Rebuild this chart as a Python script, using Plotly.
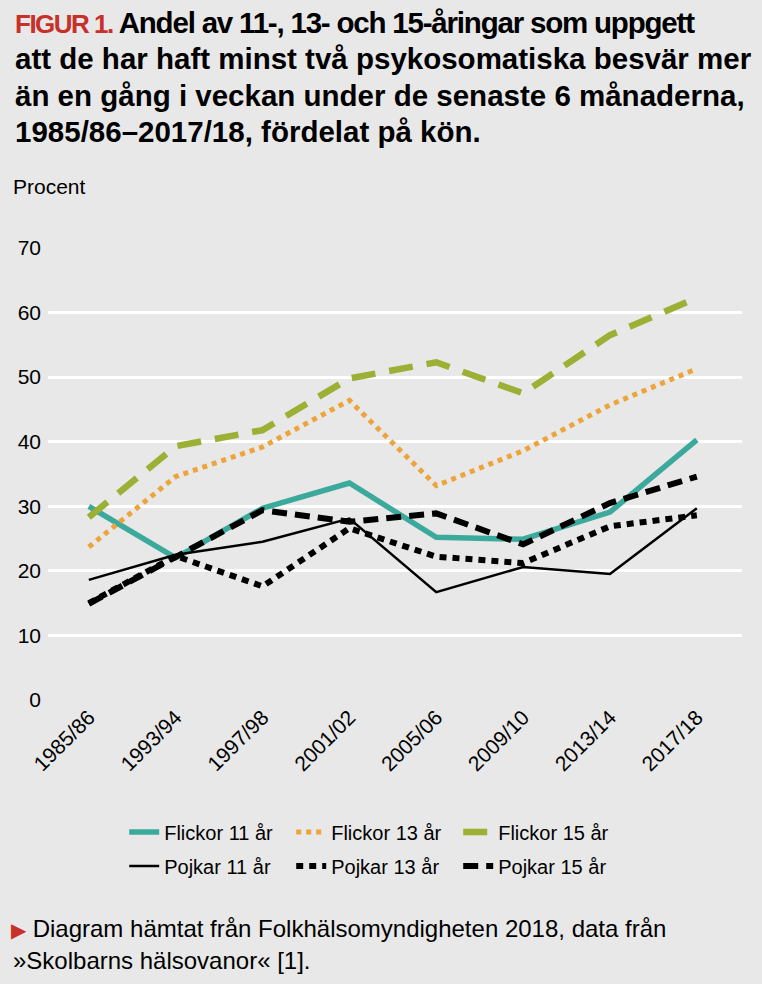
import plotly.graph_objects as go

# ---------------- data ----------------
years = ["1985/86", "1993/94", "1997/98", "2001/02", "2005/06", "2009/10", "2013/14", "2017/18"]
flickor_11 = [30.0, 22.0, 29.7, 33.6, 25.2, 24.9, 29.1, 40.3]
flickor_13 = [23.7, 34.6, 39.2, 46.4, 33.2, 38.6, 45.7, 51.3]
flickor_15 = [28.3, 39.3, 41.8, 49.8, 52.3, 47.5, 56.5, 62.3]
pojkar_11 = [18.6, 22.5, 24.5, 28.1, 16.7, 20.6, 19.5, 29.7]
pojkar_13 = [15.0, 22.3, 17.6, 26.6, 22.2, 21.2, 26.9, 28.6]
pojkar_15 = [14.9, 22.2, 29.4, 27.6, 28.9, 24.1, 30.5, 34.6]
y_ticks = [0, 10, 20, 30, 40, 50, 60, 70]

BG = "#e8e8e8"
TEAL = "#3ba99c"
ORANGE = "#eca43b"
GREEN = "#9bb035"
RED = "#c8302a"
FONT = "Liberation Sans, Arial, sans-serif"

fig = go.Figure()

series = [
    ("Flickor 11 år", flickor_11, dict(color=TEAL, width=5.5, dash="solid"), "legend"),
    ("Flickor 13 år", flickor_13, dict(color=ORANGE, width=5, dash="5px,5px"), "legend"),
    ("Flickor 15 år", flickor_15, dict(color=GREEN, width=6.5, dash="24px,14px"), "legend"),
    ("Pojkar 11 år", pojkar_11, dict(color="black", width=2.5, dash="solid"), "legend2"),
    ("Pojkar 13 år", pojkar_13, dict(color="black", width=6, dash="7px,6px"), "legend2"),
    ("Pojkar 15 år", pojkar_15, dict(color="black", width=6, dash="15px,8px"), "legend2"),
]
for name, vals, line, lg in series:
    fig.add_trace(go.Scatter(x=years, y=vals, mode="lines", name=name, line=line,
                             legend=lg, hoverinfo="skip"))

legend_common = dict(
    orientation="h", xref="container", yref="container", xanchor="left", yanchor="middle",
    x=0.163, bgcolor="rgba(0,0,0,0)", font=dict(family=FONT, size=20, color="black"),
    entrywidth=122, entrywidthmode="pixels", itemwidth=30, traceorder="normal",
)

fig.update_layout(
    width=762, height=984,
    paper_bgcolor=BG, plot_bgcolor=BG,
    margin=dict(l=48, r=20, t=248, b=284),
    showlegend=True,
    legend=dict(legend_common, y=1 - 832 / 984),
    legend2=dict(legend_common, y=1 - 866 / 984),
    xaxis=dict(type="category", range=[-0.47, 7.52], showgrid=False, zeroline=False,
               showline=False, ticks="", tickangle=-45,
               tickfont=dict(family=FONT, size=21, color="black")),
    yaxis=dict(range=[0, 70], tickvals=y_ticks, showgrid=True, gridcolor="white", gridwidth=3,
               zeroline=False, showline=False, ticks="", ticklabelstandoff=6,
               tickfont=dict(family=FONT, size=21, color="black")),
    font=dict(family=FONT, color="black"),
)

title_lines = [
    f"<span style='color:{RED};font-size:26px;letter-spacing:-1.5px'>FIGUR 1.</span>"
    "<span style='letter-spacing:-1.2px'> Andel av 11-, 13- och 15-åringar som uppgett</span>",
    "att de har haft minst två psykosomatiska besvär mer",
    "än en gång i veckan under de senaste 6 månaderna,",
    "1985/86–2017/18, fördelat på kön.",
]
for i, t in enumerate(title_lines):
    fig.add_annotation(text="<b>" + t + "</b>", xref="paper", yref="paper",
                       x=(13 - 48) / 694, y=(700 - (22 + 36.5 * i)) / 452,
                       showarrow=False, xanchor="left", yanchor="middle",
                       font=dict(family=FONT, size=29.5, color="black"))

fig.add_annotation(text="Procent", xref="paper", yref="paper",
                   x=(11 - 48) / 694, y=(700 - 187) / 452, showarrow=False,
                   xanchor="left", yanchor="middle", font=dict(family=FONT, size=21, color="black"))

fig.add_annotation(text=f"<span style='color:{RED};font-size:20px'>▶</span> Diagram hämtat från Folkhälsomyndigheten 2018, data från",
                   xref="paper", yref="paper", x=(9 - 48) / 694, y=(700 - 928) / 452,
                   showarrow=False, xanchor="left", yanchor="middle",
                   font=dict(family=FONT, size=24, color="black"))
fig.add_annotation(text="»Skolbarns hälsovanor« [1].",
                   xref="paper", yref="paper", x=(11 - 48) / 694, y=(700 - 960) / 452,
                   showarrow=False, xanchor="left", yanchor="middle",
                   font=dict(family=FONT, size=24, color="black"))

fig.write_html("out.html")
